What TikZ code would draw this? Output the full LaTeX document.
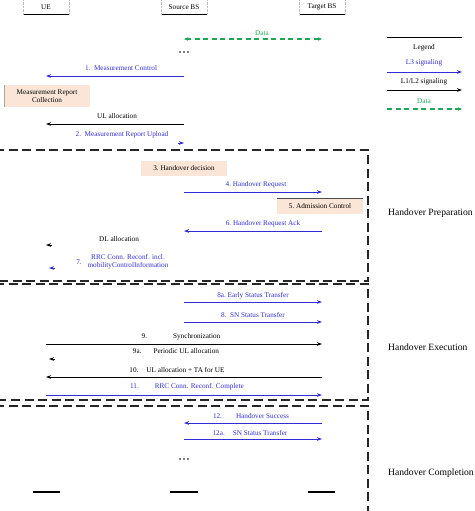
\documentclass[tikz,border=0pt]{standalone}
\usepackage{fontspec}
\setmainfont{Liberation Serif}
\usetikzlibrary{arrows.meta}
\definecolor{sig}{RGB}{50,45,215}
\definecolor{datc}{RGB}{30,165,85}
\definecolor{peach}{RGB}{251,229,214}
\begin{document}
\begin{tikzpicture}[x=1pt,y=-1pt,
  lbl/.style={font=\fontsize{7.2}{8}\selectfont, inner sep=0.5pt},
  hdr/.style={font=\fontsize{7.2}{8}\selectfont, minimum width=46pt, minimum height=15pt, inner sep=0pt},
  tip/.style={-{Stealth[length=5pt,width=3.6pt]}},
  lthree/.style={draw=sig, line width=0.8pt, tip},
  ltwo/.style={draw=black, line width=0.8pt, tip},
  datline/.style={draw=datc, line width=1.1pt, dash pattern=on 5pt off 3.5pt},
  phasebox/.style={draw=black!85, line width=1.3pt, dash pattern=on 9pt off 4.5pt},
  phasetxt/.style={font=\fontsize{9.6}{11}\selectfont, anchor=west, inner sep=0pt},
  actbox/.style={fill=peach, font=\fontsize{7.2}{8}\selectfont, inner sep=1pt, align=center},
  dotmark/.style={fill=black, circle, inner sep=0pt, minimum size=1.8pt},
  endbar/.style={line width=1.6pt}]
\useasboundingbox (0,0) rectangle (474,511);

% headers
\node[hdr] (ue) at (46,7) {UE};
\node[hdr] (sbs) at (184,7) {Source BS};
\node[hdr] (tbs) at (322,7) {Target BS};
\foreach \h in {ue,sbs,tbs}{
  \draw[line width=0.8pt] (\h.south west) -- (\h.south east);
  \draw[black!25, densely dotted] (\h.south west) -- (\h.north west);
  \draw[black!25, densely dotted] (\h.south east) -- (\h.north east);
}

% data
\node[lbl, text=datc] (datalbl) at (262,33) {Data};
\draw[datline, {Stealth[length=4pt,width=3.5pt]}-{Stealth[length=4pt,width=3.5pt]}] (sbs |- 0,39) -- (tbs |- 0,39);
\foreach \i/\x in {a/180,b/184,c/188}{\node[dotmark] (d1\i) at (\x,52) {};}

% legend
\coordinate (lgL) at (387,37);
\coordinate (lgR) at (462,37);
\draw[line width=0.8pt] (lgL) -- (lgR);
\node[lbl] (lgt) at (424,48) {Legend};
\node[lbl, text=sig] (lg1) at (424,63) {L3 signaling};
\draw[lthree] (lgL |- 0,72) -- (lgR |- 0,72);
\node[lbl] (lg2) at (424,82) {L1/L2 signaling};
\draw[ltwo] (lgL |- 0,90) -- (lgR |- 0,90);
\node[lbl, text=datc] (lg3) at (424,101) {Data};
\draw[datline, -{Stealth[length=4pt,width=3.5pt]}] (lgL |- 0,109) -- (lgR |- 0,109);

% pre-phase
\node[lbl, text=sig] (m1) at (121,68) {1.\ \ Measurement Control};
\draw[lthree] (sbs |- 0,76) -- (ue |- 0,76);
\node[actbox, minimum width=86pt, minimum height=22pt] (mrc) at (47,96) {Measurement Report\\Collection};
\draw[black!35, line width=0.6pt] (mrc.north west) -- (mrc.south west);
\node[lbl] (ul1) at (117,116) {UL allocation};
\draw[ltwo] (sbs |- 0,124) -- (ue |- 0,124);
\node[lbl, text=sig] (m2) at (122,135) {2.\ \ Measurement Report Upload};
\draw[lthree] (178,143) -- (sbs |- 0,143);

% phase boxes
\draw[phasebox] (-5,150) -- (368,150) -- (368,281) -- (-5,281);
\draw[phasebox] (-5,284) -- (368,284) -- (368,400) -- (-5,400);
\draw[phasebox] (-5,406) -- (368,406) -- (368,520);
\node[phasetxt] (ph1) at (388,213) {Handover Preparation};
\node[phasetxt] (ph2) at (388,347) {Handover Execution};
\node[phasetxt] (ph3) at (388,473) {Handover Completion};

% preparation
\node[actbox, minimum width=86pt, minimum height=15pt] (hd) at (184,168) {3.\ Handover decision};
\node[lbl, text=sig] (m4) at (256,185) {4.\ Handover Request};
\draw[lthree] (sbs |- 0,192) -- (tbs |- 0,192);
\node[actbox, minimum width=86pt, minimum height=15pt] (ac) at (320,206) {5.\ Admission Control};
\draw[black!70, line width=0.7pt] (ac.north west) -- (ac.north east);
\node[lbl, text=sig] (m6) at (263,224) {6.\ Handover Request Ack};
\draw[lthree] (tbs |- 0,231) -- (sbs |- 0,231);
\node[lbl] (dl) at (119,239) {DL allocation};
\draw[ltwo] (52,245) -- (ue |- 0,245);
\node[lbl, text=sig] (m7n) at (79,262) {7.};
\node[lbl, text=sig, align=center] (m7) at (128,262) {RRC Conn. Reconf. incl.\\mobilityControlInformation};
\draw[lthree] (55,268) -- (49,268);

% execution
\node[lbl, text=sig] (m8a) at (253,296) {8a.\ Early Status Transfer};
\draw[lthree] (sbs |- 0,302) -- (tbs |- 0,302);
\node[lbl, text=sig] (m8) at (253,315) {8.\ \ SN Status Transfer};
\draw[lthree] (sbs |- 0,322) -- (tbs |- 0,322);
\node[lbl] (m9) at (181,337) {9.\hspace{26pt}Synchronization};
\draw[ltwo] (ue |- 0,344) -- (tbs |- 0,344);
\node[lbl] (m9a) at (176,351) {9a.\hspace{12pt}Periodic UL allocation};
\draw[ltwo] (55,359) -- (49,359);
\node[lbl] (m10) at (177,370) {10.\hspace{8pt}UL allocation + TA for UE};
\draw[ltwo] (tbs |- 0,377) -- (ue |- 0,377);
\node[lbl, text=sig] (m11) at (187,387) {11.\hspace{16pt}RRC Conn. Reconf. Complete};
\draw[lthree] (ue |- 0,395) -- (tbs |- 0,395);

% completion
\node[lbl, text=sig] (m12) at (251,416) {12.\hspace{14pt}Handover Success};
\draw[lthree] (tbs |- 0,423) -- (sbs |- 0,423);
\node[lbl, text=sig] (m12a) at (250,433) {12a.\hspace{8pt}SN Status Transfer};
\draw[lthree] (sbs |- 0,439) -- (tbs |- 0,439);
\foreach \i/\x in {a/180,b/184,c/188}{\node[dotmark] (d2\i) at (\x,459) {};}
\draw[endbar] (33,492) -- (60,492);
\draw[endbar] (170,492) -- (198,492);
\draw[endbar] (308,492) -- (335,492);
\end{tikzpicture}
\end{document}
